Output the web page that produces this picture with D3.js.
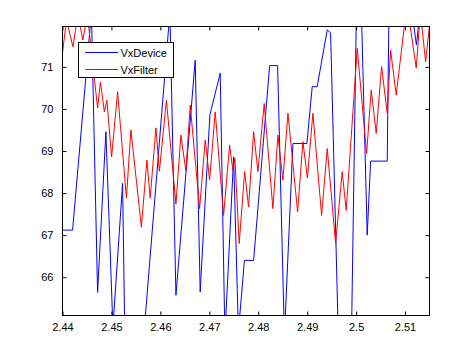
<!DOCTYPE html>
<html>
<head>
<meta charset="utf-8">
<script src="https://cdn.jsdelivr.net/npm/d3@7"></script>
<style>
  html, body { margin: 0; padding: 0; background: #fff; }
  svg { display: block; }
  text { font-family: "Liberation Sans", Arial, Helvetica, sans-serif; font-size: 11px; fill: #000; }
</style>
</head>
<body>
<svg id="chart" width="474" height="354"></svg>
<script>
// ---- data ----
const seriesNames = ["VxDevice", "VxFilter"];
const xTicks = [2.44, 2.45, 2.46, 2.47, 2.48, 2.49, 2.5, 2.51];
const xTickLabels = ["2.44", "2.45", "2.46", "2.47", "2.48", "2.49", "2.5", "2.51"];
const yTicks = [66, 67, 68, 69, 70, 71];
const yTickLabels = ["66", "67", "68", "69", "70", "71"];

const deviceX = [2.44000, 2.44206, 2.44478, 2.44591, 2.44717, 2.44887, 2.45030, 2.45228, 2.45275, 2.45653,
  2.46195, 2.46318, 2.46712, 2.46814, 2.47012, 2.47223, 2.47319, 2.47497, 2.47595, 2.47718,
  2.47906, 2.48233, 2.48396, 2.48535, 2.48709, 2.48995, 2.49103, 2.49205, 2.49410, 2.49479,
  2.49639, 2.49904, 2.50006, 2.50109, 2.50227, 2.50297, 2.50636, 2.50671, 2.51141, 2.51233,
  2.51304, 2.51519];
const deviceY = [67.12, 67.12, 70.76, 72.3, 65.64, 69.46, 64.8, 68.23, 64.5, 64.5,
  72.3, 65.57, 71.16, 65.65, 69.86, 70.85, 64.6, 68.86, 64.7, 66.40,
  66.40, 71.03, 71.03, 64.6, 69.18, 69.18, 70.53, 70.53, 71.88, 71.81,
  64.5, 64.5, 72.3, 72.3, 67.0, 68.76, 68.76, 72.3, 72.3, 71.52,
  72.3, 72.3];

const filterX = [2.44000, 2.44080, 2.44213, 2.44315, 2.44417, 2.44509, 2.44717, 2.44775, 2.44856, 2.44907,
  2.45003, 2.45126, 2.45306, 2.45398, 2.45612, 2.45725, 2.45792, 2.45909, 2.45980, 2.46123,
  2.46318, 2.46420, 2.46522, 2.46610, 2.46802, 2.46916, 2.47006, 2.47121, 2.47292, 2.47415,
  2.47482, 2.47523, 2.47611, 2.47722, 2.47803, 2.47906, 2.47993, 2.48122, 2.48300, 2.48402,
  2.48504, 2.48607, 2.48805, 2.48913, 2.49005, 2.49117, 2.49295, 2.49410, 2.49581, 2.49716,
  2.49798, 2.50023, 2.50215, 2.50309, 2.50411, 2.50521, 2.50636, 2.50705, 2.50820, 2.51039,
  2.51229, 2.51314, 2.51421, 2.51519];
const filterY = [71.33, 72.12, 71.48, 72.24, 71.64, 72.24, 70.02, 70.64, 69.93, 70.21,
  68.86, 70.41, 67.88, 69.50, 67.19, 68.78, 67.88, 69.55, 68.52, 70.21,
  67.74, 69.38, 68.52, 70.09, 67.63, 69.26, 68.31, 69.93, 67.47, 69.14,
  68.54, 68.83, 66.80, 68.51, 67.67, 69.46, 68.51, 70.13, 67.63, 69.38,
  68.31, 69.90, 67.55, 69.22, 68.36, 69.90, 67.47, 69.06, 66.80, 68.51,
  67.59, 71.44, 68.94, 70.45, 69.42, 71.01, 69.90, 71.40, 70.33, 72.5,
  70.97, 72.3, 71.12, 72.2];

const xDomain = [2.44, 2.515];
const yDomain = [65.09, 71.96];

// ---- drawing ----
const svg = d3.select("#chart");
const L = 62.5, R = 429.5, T = 26.5, B = 315.5;
const x = d3.scaleLinear().domain(xDomain).range([L, R]);
const y = d3.scaleLinear().domain(yDomain).range([B, T]);

svg.append("rect").attr("width", 474).attr("height", 354).attr("fill", "#fff");

svg.append("defs").append("clipPath").attr("id", "clip")
  .append("rect").attr("x", L).attr("y", T).attr("width", R - L).attr("height", B - T);

const line = d3.line().x(d => x(d[0])).y(d => y(d[1]));
const devData = deviceX.map((v, i) => [v, deviceY[i]]);
const filData = filterX.map((v, i) => [v, filterY[i]]);

const plot = svg.append("g").attr("clip-path", "url(#clip)");
plot.append("path").datum(devData).attr("d", line)
  .attr("fill", "none").attr("stroke", "#0000ff").attr("stroke-width", 1);
plot.append("path").datum(filData).attr("d", line)
  .attr("fill", "none").attr("stroke", "#ff0000").attr("stroke-width", 1);

// axes (MATLAB style: inward ticks on all four sides)
const tl = 4;
const axB = d3.axisBottom(x).tickValues(xTicks).tickSizeInner(-tl).tickSizeOuter(0).tickPadding(8)
  .tickFormat((d, i) => xTickLabels[i]);
const axT = d3.axisTop(x).tickValues(xTicks).tickSizeInner(-tl).tickSizeOuter(0).tickFormat("");
const axL = d3.axisLeft(y).tickValues(yTicks).tickSizeInner(-tl).tickSizeOuter(0).tickPadding(9)
  .tickFormat((d, i) => yTickLabels[i]);
const axR = d3.axisRight(y).tickValues(yTicks).tickSizeInner(-tl).tickSizeOuter(0).tickFormat("");

function styleAxis(g) {
  g.select(".domain").remove();
  g.selectAll(".tick line").attr("stroke", "#000").attr("stroke-width", 1);
  g.selectAll(".tick text").attr("font-family", "Liberation Sans, Arial, sans-serif")
    .attr("font-size", 11).attr("fill", "#000");
}
svg.append("g").attr("transform", `translate(0,${B})`).call(axB).call(styleAxis);
svg.append("g").attr("transform", `translate(0,${T})`).call(axT).call(styleAxis);
svg.append("g").attr("transform", `translate(${L},0)`).call(axL).call(styleAxis);
svg.append("g").attr("transform", `translate(${R},0)`).call(axR).call(styleAxis);

svg.append("rect").attr("x", L).attr("y", T).attr("width", R - L).attr("height", B - T)
  .attr("fill", "none").attr("stroke", "#000").attr("stroke-width", 1);

// legend
const lg = svg.append("g");
lg.append("rect").attr("x", 78.5).attr("y", 42.5).attr("width", 95).attr("height", 35)
  .attr("fill", "#fff").attr("stroke", "#000").attr("stroke-width", 1);
const legendColors = ["#0000ff", "#ff0000"];
seriesNames.forEach((name, i) => {
  const yy = 52.5 + i * 17;
  lg.append("line").attr("x1", 85).attr("x2", 118).attr("y1", yy).attr("y2", yy)
    .attr("stroke", legendColors[i]).attr("stroke-width", 1);
  lg.append("text").attr("x", 120.5).attr("y", yy + 4).text(name);
});
</script>
</body>
</html>
